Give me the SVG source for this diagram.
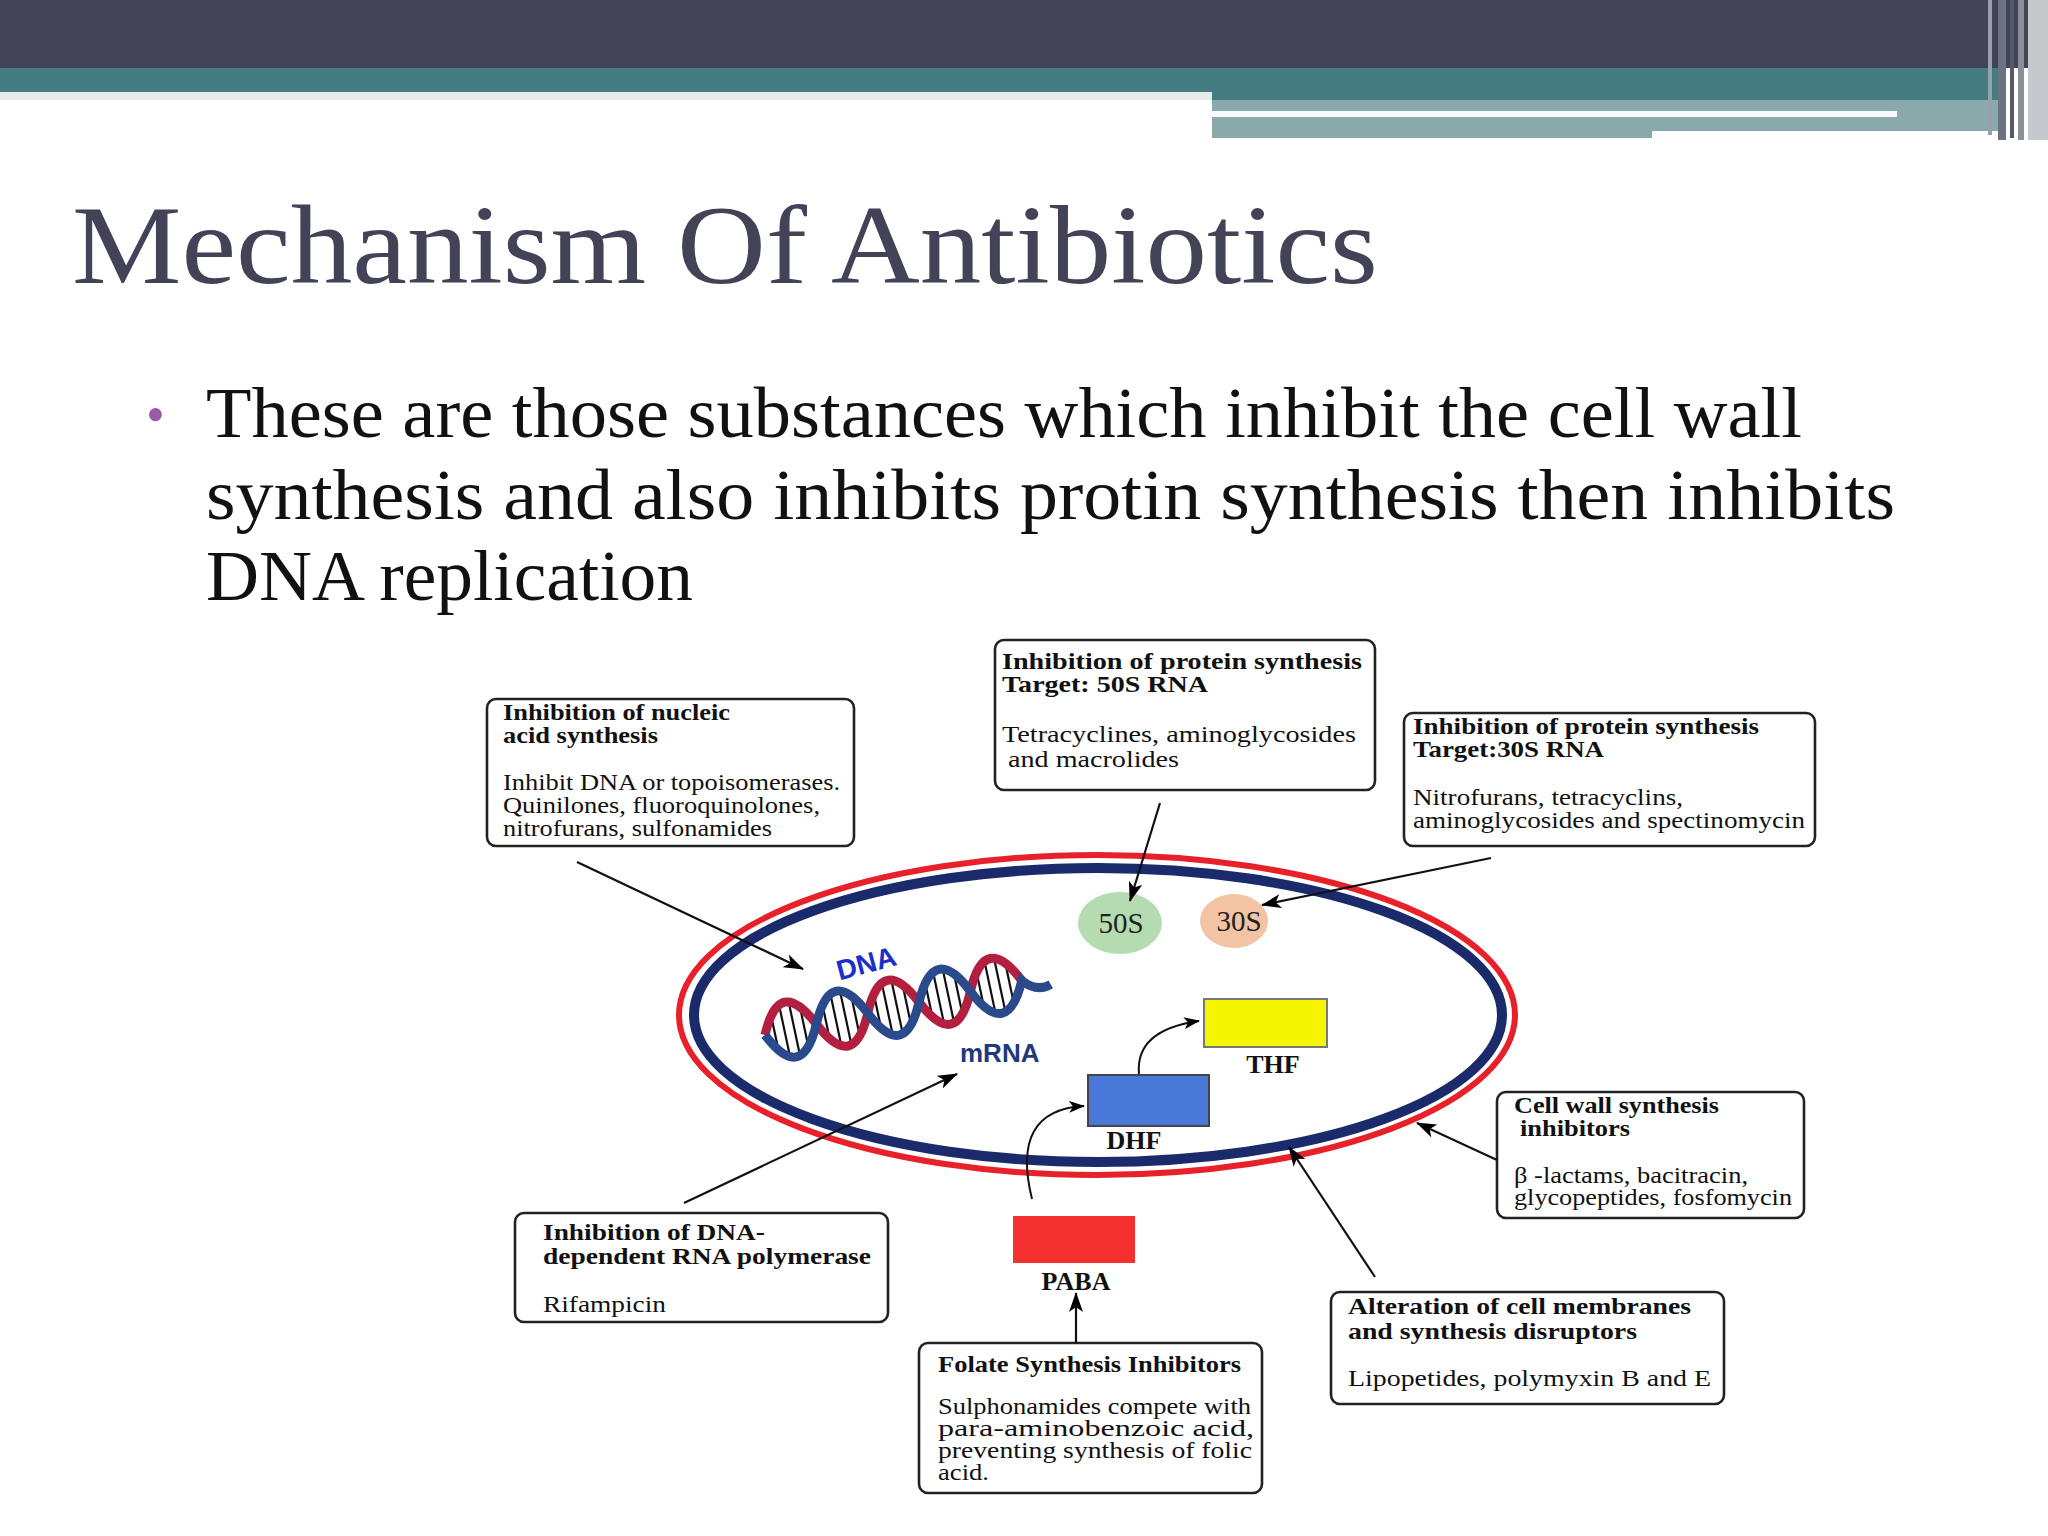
<svg xmlns="http://www.w3.org/2000/svg" width="2048" height="1536" viewBox="0 0 2048 1536">
<defs>
<marker id="ah" viewBox="0 0 20 14" refX="19" refY="7" markerWidth="20" markerHeight="14" markerUnits="userSpaceOnUse" orient="auto"><path d="M0,0 L20,7 L0,14 L5,7 Z" fill="#000"/></marker>
<marker id="ahs" viewBox="0 0 16 12" refX="15" refY="6" markerWidth="16" markerHeight="12" markerUnits="userSpaceOnUse" orient="auto"><path d="M0,0 L16,6 L0,12 L4,6 Z" fill="#000"/></marker>
<g id="rungs" stroke="#111" stroke-width="2.2"><line x1="10" y1="-16" x2="10" y2="16"/><line x1="20" y1="-26" x2="20" y2="26"/><line x1="30" y1="-27" x2="30" y2="27"/><line x1="40" y1="-19" x2="40" y2="19"/></g>
</defs>
<style>
.box{fill:#fff;stroke:#222;stroke-width:2.6}
.t{font-family:"Liberation Serif","Times New Roman",serif;font-size:24px;fill:#111}
.b{font-weight:bold}
.r{font-family:"Liberation Serif","Times New Roman",serif;font-size:29px;fill:#222}
.lbl{font-family:"Liberation Serif","Times New Roman",serif;font-weight:bold;font-size:26px;fill:#111}
.c{stroke:#111;stroke-width:2.2;fill:none;marker-end:url(#ah)}
</style>
<rect width="2048" height="1536" fill="#fff"/>
<g id="header">
<rect x="0" y="0" width="2048" height="68" fill="#434358"/>
<rect x="0" y="68" width="1212" height="24" fill="#447c82"/>
<rect x="0" y="92" width="1212" height="8" fill="#d5dede" opacity="0.6"/>
<rect x="1212" y="68" width="790" height="32" fill="#447c82"/>
<rect x="1212" y="100" width="790" height="38" fill="#8aa9aa"/>
<rect x="1212" y="111" width="685" height="6" fill="#f8fbfb"/>
<rect x="1652" y="131" width="360" height="8" fill="#fff"/>
<rect x="1988" y="0" width="4" height="135" fill="#9aa0aa"/>
<rect x="1998" y="0" width="8" height="140" fill="#6c7280"/>
<rect x="2010" y="0" width="4" height="138" fill="#555a68"/>
<rect x="2018" y="0" width="6" height="140" fill="#8a909a"/>
<rect x="2028" y="0" width="20" height="140" fill="#c5c9ce"/>
</g>
<text x="72" y="283" font-family="Liberation Serif, serif" font-size="112" fill="#434358" textLength="1306" lengthAdjust="spacingAndGlyphs">Mechanism Of Antibiotics</text>
<g font-family="Liberation Serif, serif" font-size="72" fill="#111">
<text x="146" y="433" fill="#9a5aa6" font-size="54">•</text>
<text x="206" y="437" textLength="1596" lengthAdjust="spacingAndGlyphs">These are those substances which inhibit the cell wall</text>
<text x="206" y="519" textLength="1689" lengthAdjust="spacingAndGlyphs">synthesis and also inhibits protin synthesis then inhibits</text>
<text x="206" y="600" textLength="487" lengthAdjust="spacingAndGlyphs">DNA replication</text>
</g>
<g id="cell">
<ellipse cx="1097" cy="1015" rx="418" ry="160" fill="none" stroke="#e8202a" stroke-width="6"/>
<ellipse cx="1098" cy="1015" rx="404" ry="147" fill="#fff" stroke="#1b2a6b" stroke-width="10"/>
</g>
<g id="n50S"><ellipse cx="1120" cy="923" rx="42" ry="31" fill="#b5dbb0"/><text class="r" x="1121" y="933" text-anchor="middle">50S</text></g>
<g id="n30S"><ellipse cx="1234" cy="921" rx="34" ry="27" fill="#f2c4a4"/><text class="r" x="1239" y="931" text-anchor="middle">30S</text></g>
<g id="dna">
<g transform="translate(765,1035) rotate(-12)">
<use href="#rungs" x="0"/><use href="#rungs" x="52.5"/><use href="#rungs" x="105"/><use href="#rungs" x="157.5"/><use href="#rungs" x="210"/>
<path d="M0,0 Q26,-56 52.5,0 Q79,56 105,0 Q131,-56 157.5,0 Q184,56 210,0 Q236,-56 262.5,0" fill="none" stroke="#b3203f" stroke-width="9"/>
<path d="M0,0 Q26,56 52.5,0 Q79,-56 105,0 Q131,56 157.5,0 Q184,-56 210,0 Q236,56 262.5,0 Q275,15 290,10" fill="none" stroke="#2a4a8c" stroke-width="9"/>
</g>
<text x="835" y="973" transform="rotate(-15 866 960)" font-family="Liberation Sans, Arial, sans-serif" font-weight="bold" font-size="28" fill="#1a2fcc">DNA</text>
</g>
<g id="mrna"><text x="960" y="1062" font-family="Liberation Sans, Arial, sans-serif" font-weight="bold" font-size="26" fill="#1e3a7a">mRNA</text></g>
<g id="thf"><rect x="1204" y="999" width="123" height="48" fill="#f5f500" stroke="#777" stroke-width="2"/><text class="lbl" x="1273" y="1073" text-anchor="middle">THF</text></g>
<g id="dhf"><rect x="1088" y="1075" width="121" height="51" fill="#4a78d8" stroke="#444" stroke-width="2"/><text class="lbl" x="1134" y="1149" text-anchor="middle">DHF</text></g>
<g id="paba"><rect x="1013" y="1216" width="122" height="47" fill="#f53030"/><text class="lbl" x="1076" y="1290" text-anchor="middle">PABA</text></g>
<g id="box-nucleic"><rect class="box" x="487" y="699" width="367" height="147" rx="9"/>
<text class="t b" x="503" y="720" textLength="227" lengthAdjust="spacingAndGlyphs">Inhibition of nucleic</text><text class="t b" x="503" y="743" textLength="155" lengthAdjust="spacingAndGlyphs">acid synthesis</text>
<text class="t" x="503" y="790" textLength="337" lengthAdjust="spacingAndGlyphs">Inhibit DNA or topoisomerases.</text><text class="t" x="503" y="813" textLength="317" lengthAdjust="spacingAndGlyphs">Quinilones, fluoroquinolones,</text><text class="t" x="503" y="836" textLength="269" lengthAdjust="spacingAndGlyphs">nitrofurans, sulfonamides</text></g>
<g id="box-50s"><rect class="box" x="995" y="640" width="380" height="150" rx="9"/>
<text class="t b" x="1002" y="669" textLength="360" lengthAdjust="spacingAndGlyphs">Inhibition of protein synthesis</text><text class="t b" x="1002" y="692" textLength="206" lengthAdjust="spacingAndGlyphs">Target: 50S RNA</text>
<text class="t" x="1002" y="742" textLength="354" lengthAdjust="spacingAndGlyphs">Tetracyclines, aminoglycosides</text><text class="t" x="1008" y="767" textLength="171" lengthAdjust="spacingAndGlyphs">and macrolides</text></g>
<g id="box-30s"><rect class="box" x="1404" y="713" width="411" height="133" rx="9"/>
<text class="t b" x="1413" y="734" textLength="346" lengthAdjust="spacingAndGlyphs">Inhibition of protein synthesis</text><text class="t b" x="1413" y="757" textLength="191" lengthAdjust="spacingAndGlyphs">Target:30S RNA</text>
<text class="t" x="1413" y="805" textLength="270" lengthAdjust="spacingAndGlyphs">Nitrofurans, tetracyclins,</text><text class="t" x="1413" y="828" textLength="392" lengthAdjust="spacingAndGlyphs">aminoglycosides and spectinomycin</text></g>
<g id="box-cellwall"><rect class="box" x="1497" y="1092" width="307" height="126" rx="9"/>
<text class="t b" x="1514" y="1113" textLength="205" lengthAdjust="spacingAndGlyphs">Cell wall synthesis</text><text class="t b" x="1520" y="1136" textLength="110" lengthAdjust="spacingAndGlyphs">inhibitors</text>
<text class="t" x="1514" y="1183" textLength="234" lengthAdjust="spacingAndGlyphs">β -lactams, bacitracin,</text><text class="t" x="1514" y="1205" textLength="278" lengthAdjust="spacingAndGlyphs">glycopeptides, fosfomycin</text></g>
<g id="box-rnapol"><rect class="box" x="515" y="1213" width="373" height="109" rx="9"/>
<text class="t b" x="543" y="1240" textLength="222" lengthAdjust="spacingAndGlyphs">Inhibition of DNA-</text><text class="t b" x="543" y="1264" textLength="328" lengthAdjust="spacingAndGlyphs">dependent RNA polymerase</text>
<text class="t" x="543" y="1312" textLength="123" lengthAdjust="spacingAndGlyphs">Rifampicin</text></g>
<g id="box-folate"><rect class="box" x="919" y="1343" width="343" height="150" rx="9"/>
<text class="t b" x="938" y="1372" textLength="303" lengthAdjust="spacingAndGlyphs">Folate Synthesis Inhibitors</text>
<text class="t" x="938" y="1414" textLength="313" lengthAdjust="spacingAndGlyphs">Sulphonamides compete with</text><text class="t" x="938" y="1436" textLength="316" lengthAdjust="spacingAndGlyphs">para-aminobenzoic acid,</text><text class="t" x="938" y="1458" textLength="314" lengthAdjust="spacingAndGlyphs">preventing synthesis of folic</text><text class="t" x="938" y="1480" textLength="51" lengthAdjust="spacingAndGlyphs">acid.</text></g>
<g id="box-membrane"><rect class="box" x="1331" y="1292" width="393" height="112" rx="9"/>
<text class="t b" x="1348" y="1314" textLength="343" lengthAdjust="spacingAndGlyphs">Alteration of cell membranes</text><text class="t b" x="1348" y="1339" textLength="289" lengthAdjust="spacingAndGlyphs">and synthesis disruptors</text>
<text class="t" x="1348" y="1386" textLength="363" lengthAdjust="spacingAndGlyphs">Lipopetides, polymyxin B and E</text></g>
<g id="connectors">
<line class="c" x1="577" y1="862" x2="803" y2="969"/>
<line class="c" x1="1160" y1="803" x2="1130" y2="901"/>
<line class="c" x1="1491" y1="858" x2="1262" y2="905"/>
<line class="c" x1="684" y1="1203" x2="957" y2="1074"/>
<line class="c" x1="1497" y1="1160" x2="1417" y2="1123"/>
<line class="c" x1="1375" y1="1277" x2="1289" y2="1147"/>
<line class="c" x1="1076" y1="1343" x2="1076" y2="1293"/>
<path d="M1032,1199 Q1010,1110 1084,1106" fill="none" stroke="#111" stroke-width="2" marker-end="url(#ahs)"/>
<path d="M1139,1074 Q1135,1030 1199,1021" fill="none" stroke="#111" stroke-width="2" marker-end="url(#ahs)"/>
</g>
</svg>
